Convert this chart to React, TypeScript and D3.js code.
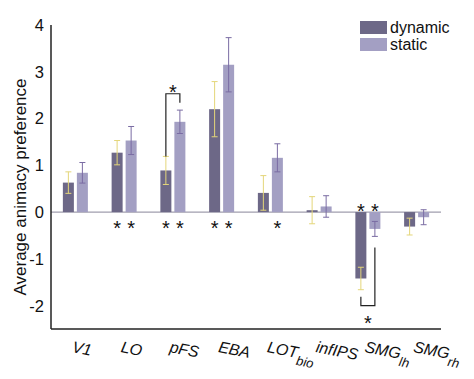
import React from "react";
import * as d3 from "d3";

const categories = ["V1", "LO", "pFS", "EBA", "LOT", "infIPS", "SMG", "SMG"];
const subscripts = ["", "", "", "", "bio", "", "lh", "rh"];
const seriesNames = ["dynamic", "static"];
const dynamicValues = [0.63, 1.27, 0.89, 2.2, 0.41, 0.04, -1.42, -0.31];
const dynamicErr = [0.23, 0.26, 0.3, 0.59, 0.37, 0.29, 0.24, 0.18];
const staticValues = [0.84, 1.53, 1.93, 3.15, 1.16, 0.12, -0.36, -0.11];
const staticErr = [0.22, 0.3, 0.25, 0.58, 0.3, 0.23, 0.16, 0.16];
const yTicks = [-2, -1, 0, 1, 2, 3, 4];
// significance stars: [group index, series index, y value]
const stars: [number, number, number][] = [
  [1, 0, -0.2], [1, 1, -0.2], [2, 0, -0.2], [2, 1, -0.2], [3, 0, -0.2], [3, 1, -0.2], [4, 1, -0.2],
  [6, 0, 0.17], [6, 1, 0.17],
];
// brackets: group, horizontal y, left leg end, right leg end, star y
const brackets = [
  { group: 2, top: 2.53, leftEnd: 1.19, rightEnd: 2.34, star: 2.72 },
  { group: 6, top: -2.0, leftEnd: -1.81, rightEnd: -0.76, star: -2.22 },
];

const W = 474, H = 379;
const L = 51, R = 441, T = 25, B = 329;

export default function App() {
  const ids = categories.map((_, i) => String(i));
  const x0 = d3.scaleBand().domain(ids).range([L, R]).paddingInner(0.487).paddingOuter(0.2435);
  const x1 = d3.scaleBand().domain(seriesNames).range([0, x0.bandwidth()]).paddingInner(3 / 14);
  const y = d3.scaleLinear().domain([-2.5, 4]).range([B, T]);
  const colors = ["#6d6887", "#a39fc3"];
  const errColors = ["#e4d67a", "#7a6ca3"];
  const vals = [dynamicValues, staticValues];
  const errs = [dynamicErr, staticErr];
  const font = "Liberation Sans, Arial, Helvetica, sans-serif";
  const barCenter = (g: number, s: number) => (x0(String(g)) as number) + (x1(seriesNames[s]) as number) + x1.bandwidth() / 2;

  return (
    <svg width={W} height={H} style={{ position: "absolute", left: 0, top: 0, background: "#fff" }} fontFamily={font}>
      {/* zero line */}
      <line x1={L} x2={R} y1={y(0)} y2={y(0)} stroke="#a09eae" strokeWidth={1.2} />
      {/* bars */}
      {vals.map((arr, s) =>
        arr.map((v, g) => (
          <rect key={`b${s}-${g}`} x={(x0(String(g)) as number) + (x1(seriesNames[s]) as number)} width={x1.bandwidth()}
            y={y(Math.max(0, v))} height={Math.abs(y(v) - y(0))} fill={colors[s]} />
        ))
      )}
      {/* error bars */}
      {vals.map((arr, s) =>
        arr.map((v, g) => {
          const cx = barCenter(g, s);
          const e = errs[s][g];
          return (
            <g key={`e${s}-${g}`} stroke={errColors[s]} strokeWidth={1}>
              <line x1={cx} x2={cx} y1={y(v + e)} y2={y(v - e)} />
              <line x1={cx - 3} x2={cx + 3} y1={y(v + e)} y2={y(v + e)} />
              <line x1={cx - 3} x2={cx + 3} y1={y(v - e)} y2={y(v - e)} />
            </g>
          );
        })
      )}
      {/* axes */}
      <line x1={L} x2={L} y1={T} y2={B} stroke="#222" strokeWidth={1.5} />
      <line x1={L} x2={R} y1={B} y2={B} stroke="#222" strokeWidth={1.5} />
      {yTicks.map((t) => (
        <text key={t} x={44} y={y(t)} dy="0.36em" textAnchor="end" fontSize={16.5} fill="#111">{t}</text>
      ))}
      <text transform={`translate(26,187) rotate(-90)`} textAnchor="middle" fontSize={17} fill="#111">
        Average animacy preference
      </text>
      {/* x labels */}
      {categories.map((c, g) => {
        const cx = (x0(String(g)) as number) + x0.bandwidth() / 2;
        return (
          <text key={`xl${g}`} transform={`translate(${cx - 4},${352}) rotate(11)`} fontSize={16} fontStyle="italic" fill="#111">
            {c}
            {subscripts[g] ? <tspan fontSize={13} dy={7}>{subscripts[g]}</tspan> : null}
          </text>
        );
      })}
      {/* stars */}
      {stars.map(([g, s, v], i) => (
        <text key={`s${i}`} x={barCenter(g, s)} y={y(v)} dy="0.7em" textAnchor="middle" fontSize={20} fill="#111">*</text>
      ))}
      {/* brackets */}
      {brackets.map((b, i) => {
        const xl = barCenter(b.group, 0);
        const xr = barCenter(b.group, 1);
        return (
          <g key={`br${i}`}>
            <path d={`M${xl},${y(b.leftEnd)}V${y(b.top)}H${xr}V${y(b.rightEnd)}`} fill="none" stroke="#222" strokeWidth={1.2} />
            <text x={(xl + xr) / 2} y={y(b.star)} dy="0.7em" textAnchor="middle" fontSize={20} fill="#111">*</text>
          </g>
        );
      })}
      {/* legend */}
      {seriesNames.map((n, s) => (
        <g key={n}>
          <rect x={360} y={21 + s * 17} width={27} height={13} fill={colors[s]} />
          <text x={390} y={27.5 + s * 17} dy="0.36em" fontSize={16} fill="#111">{n}</text>
        </g>
      ))}
    </svg>
  );
}
